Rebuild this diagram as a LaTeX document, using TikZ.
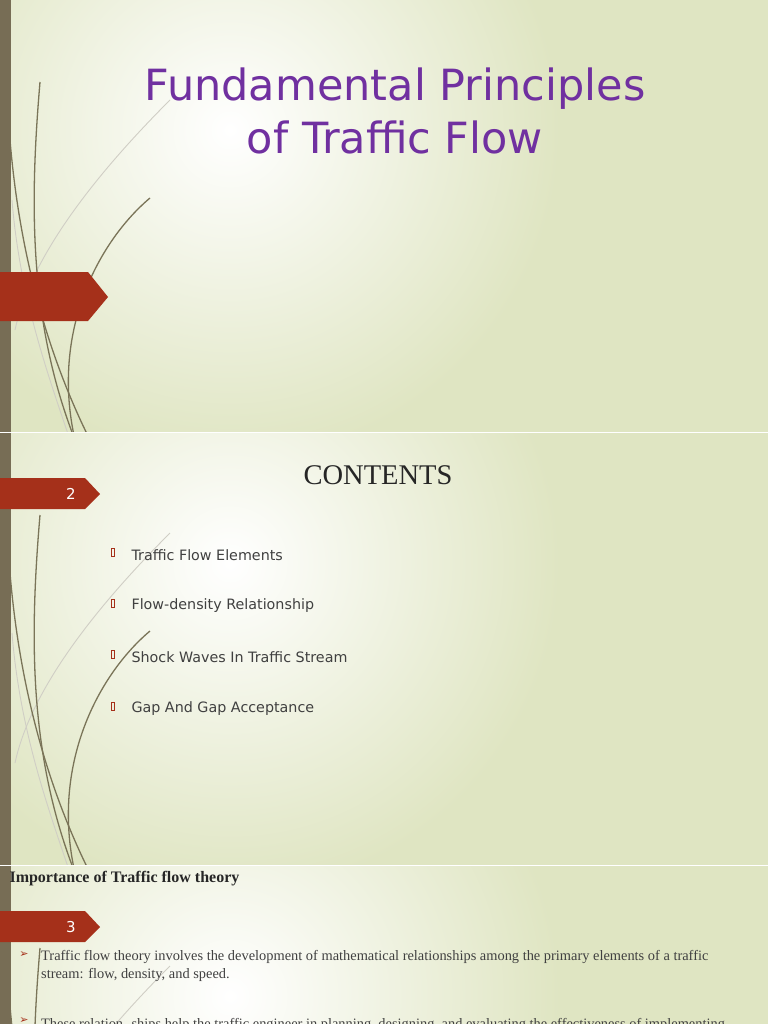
\documentclass[tikz,border=0pt]{standalone}
\usepackage{fontspec}
\setmainfont{Liberation Serif}
\newfontfamily\dvs{DejaVu Sans}
\begin{document}
\begin{tikzpicture}[x=1pt,y=-1pt]
\definecolor{bg}{HTML}{DFE5C2}
\definecolor{barc}{HTML}{776D55}
\definecolor{rib}{HTML}{A5301A}
\definecolor{olv}{HTML}{7A7458}
\definecolor{ttl}{HTML}{7030A0}
\definecolor{txt}{HTML}{404040}
\tikzset{crv/.style={draw=olv,line width=1.3pt},
 crvl/.style={draw=olv!35,line width=0.9pt},
 bul/.style={font=\dvs\fontsize{14.3}{16}\selectfont,text=txt,anchor=west},
 box/.style={draw=rib,line width=0.5pt}}
\useasboundingbox (0,0) rectangle (768,1024);
\newcommand\slidebg[2]{%
 \begin{scope}
 \clip (0,#1) rectangle (768,#2);
 \fill[bg] (0,#1) rectangle (768,#2);
 \shade[inner color=white,outer color=bg] (230,#1+130) circle (330);
 \begin{scope}[yshift=-#1pt]
 \draw[crvl] (170,100) .. controls (90,180) and (30,260) .. (15,330);
 \draw[crvl] (12,200) .. controls (20,300) and (50,380) .. (70,440);
 \draw[crv] (40,82) .. controls (30,200) and (28,320) .. (75,440);
 \draw[crv] (10,140) .. controls (20,260) and (50,360) .. (90,440);
 \draw[crv] (150,198) .. controls (100,240) and (50,330) .. (75,440);
 \end{scope}
 \fill[barc] (0,#1) rectangle (11,#2);
 \end{scope}}
\slidebg{0}{432}
\slidebg{433}{865}
\slidebg{866}{1024}
\draw[white,line width=1pt] (0,432.5) -- (768,432.5) (0,865.5) -- (768,865.5);
% slide 1
\fill[rib] (0,272) -- (88,272) -- (108,297) -- (88,321) -- (0,321) -- cycle;
\node[font=\dvs\fontsize{43}{53}\selectfont,text=ttl,align=center] (t) at (395,111) {Fundamental Principles\\of Traffic Flow};
% slide 2
\fill[rib] (0,478) -- (85,478) -- (100,494) -- (85,509) -- (0,509) -- cycle;
\node[text=white,font=\dvs\fontsize{15}{17}\selectfont] (n2) at (71,494) {2};
\node[font=\fontsize{28.5}{32}\selectfont,text=black!85] (c) at (378,475) {CONTENTS};
\foreach \y/\s [count=\i] in {555/Traffic Flow Elements,606/Flow-density Relationship,657/Shock Waves In Traffic Stream,709/Gap And Gap Acceptance}{
 \node[bul] (b\i) at (128,\y) {\s};
 \draw[box] (111.5,\y-7) rectangle (114.5,\y+1);
}
% slide 3
\node[font=\bfseries\fontsize{16}{18}\selectfont,text=black!85,anchor=west] (h) at (6,879) {Importance of Traffic flow theory};
\fill[rib] (0,911) -- (85,911) -- (100,927) -- (85,942) -- (0,942) -- cycle;
\node[text=white,font=\dvs\fontsize{15}{17}\selectfont] (n3) at (71,927) {3};
\node[text=rib,font=\dvs\fontsize{11}{11}\selectfont] (a1) at (24,955) {➢};
\node[text=txt,anchor=north west,align=left,font=\fontsize{14.4}{18}\selectfont,inner sep=0pt] (p1) at (41,950) {Traffic flow theory involves the development of mathematical relationships among the primary elements of a traffic\\stream: flow, density, and speed.};
\node[text=rib,font=\dvs\fontsize{11}{11}\selectfont] (a2) at (24,1021) {➢};
\node[text=txt,anchor=north west,inner sep=0pt,font=\fontsize{14.4}{18}\selectfont] (p2) at (41,1018) {These relation- ships help the traffic engineer in planning, designing, and evaluating the effectiveness of implementing};
\end{tikzpicture}
\end{document}
